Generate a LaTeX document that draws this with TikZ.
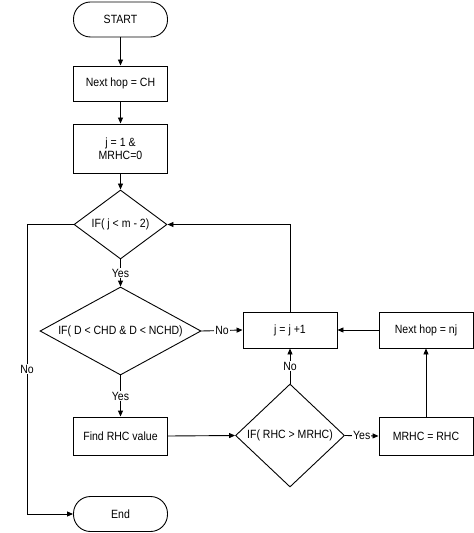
\documentclass[tikz,border=0pt]{standalone}
\usepackage{fontspec}
\setmainfont{Liberation Sans}[FakeStretch=0.88]
\usetikzlibrary{arrows.meta,shapes.geometric}
\begin{document}
\begin{tikzpicture}[x=1bp,y=-1bp,
  line width=0.9bp,
  every node/.style={font=\fontsize{12}{13}\selectfont},
  proc/.style={draw,rectangle,minimum width=94bp,inner sep=0pt,align=center},
  term/.style={draw,rectangle,rounded corners=17bp,minimum width=94bp,minimum height=35bp,inner sep=0pt},
  dec/.style={draw,diamond,inner sep=0pt},
  arr/.style={-{Triangle[length=6bp,width=5bp]}},
  lab/.style={fill=white,inner sep=1bp}]
\useasboundingbox (0,0) rectangle (474,533);
\node[term] (start) at (120.5,19.5) {START};
\node[proc,minimum height=35bp] (nh1) at (120.5,83.5) {Next hop = CH};
\node[proc,minimum height=49bp] (init) at (120.5,148.5) {j = 1 \&\\MRHC=0};
\node[dec,minimum width=93bp,minimum height=69bp,label={center:IF( j < m - 2)}] (d1) at (120.5,224.5) {};
\node[dec,minimum width=161bp,minimum height=88bp,label={center:IF( D < CHD \& D < NCHD)}] (d2) at (120.5,331) {};
\node[proc,minimum height=36bp] (jj) at (290,330) {j = j +1};
\node[proc,minimum height=36bp] (nhnj) at (426,330) {Next hop = nj};
\node[proc,minimum height=38bp] (find) at (120.5,436) {Find RHC value};
\node[dec,minimum width=109bp,minimum height=103bp,label={center:IF( RHC > MRHC)}] (d3) at (290,435.5) {};
\node[proc,minimum height=38bp] (mr) at (426,436) {MRHC = RHC};
\node[term] (end) at (120.5,514) {End};
\coordinate (lx) at (27,0);

\draw[arr] (start) -- (nh1);
\draw[arr] (nh1) -- (init);
\draw[arr] (init) -- (d1);
\draw[arr] (d1.south) -- node[lab]{Yes} (d2.north);
\draw[arr] (d2.east) -- node[lab]{No} (jj.west);
\draw[arr] (nhnj.west) -- (jj.east);
\draw[arr] (jj.north) |- (d1.east);
\draw[arr] (d1.west) -- (d1.west -| lx) -- node[lab]{No} (end.west -| lx) -- (end.west);
\draw[arr] (d2.south) -- node[lab]{Yes} (find.north);
\draw[arr] (find.east) -- (d3.west);
\draw[arr] (d3.north) -- node[lab]{No} (jj.south);
\draw[arr] (d3.east) -- node[lab]{Yes} (mr.west);
\draw[arr] (mr.north) -- (nhnj.south);
\end{tikzpicture}
\end{document}
